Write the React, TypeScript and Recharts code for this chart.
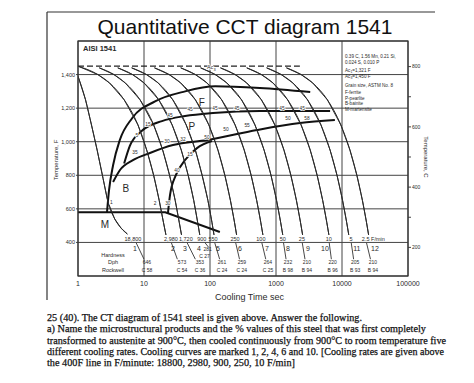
import React from 'react';
import { ComposedChart, Line, Scatter, XAxis, YAxis, CartesianGrid } from 'recharts';

// cooling curves: [time s, temperature F]
const curve1 = [[1, 1390], [1.3, 1250], [1.6, 1100], [1.95, 950], [2.4, 780], [2.85, 640], [3.6, 540], [4.5, 485], [5.6, 450]];
const curve2 = [[1, 1450], [2, 1400], [3, 1350], [5, 1250], [8.1, 1100], [11, 950], [14, 800], [17, 650], [19.7, 520], [21.5, 445]];
const curve3 = [[2.1, 1440], [3.5, 1400], [5.2, 1350], [8.7, 1250], [14, 1100], [19.2, 950], [24.4, 800], [29.7, 650], [34.2, 520], [37, 445]];
const curve4 = [[4, 1440], [6.7, 1400], [10, 1350], [16.7, 1250], [26.7, 1100], [36.7, 950], [46.7, 800], [56.7, 650], [65, 520], [70, 445]];
const curve5 = [[6.5, 1440], [10.9, 1400], [16.4, 1350], [27.3, 1250], [43.6, 1100], [60, 950], [76, 800], [93, 650], [107, 520], [115, 445]];
const curve6 = [[14.4, 1440], [24, 1400], [36, 1350], [60, 1250], [96, 1100], [132, 950], [168, 800], [204, 650], [235, 520], [253, 445]];
const curve7 = [[36, 1440], [60, 1400], [90, 1350], [150, 1250], [240, 1100], [330, 950], [420, 800], [510, 650], [588, 520], [633, 445]];
const curve8 = [[72, 1440], [120, 1400], [180, 1350], [300, 1250], [480, 1100], [660, 950], [840, 800], [1020, 650], [1176, 520], [1266, 445]];
const curve9 = [[144, 1440], [240, 1400], [360, 1350], [600, 1250], [960, 1100], [1320, 950], [1680, 800], [2040, 650], [2350, 520], [2530, 445]];
const curve10 = [[360, 1440], [600, 1400], [900, 1350], [1500, 1250], [2400, 1100], [3300, 950], [4200, 800], [5100, 650], [5880, 520], [6330, 445]];
const curve11 = [[720, 1440], [1200, 1400], [1800, 1350], [3000, 1250], [4800, 1100], [6600, 950], [8400, 800], [10200, 650], [11760, 520], [12660, 445]];
const curve12 = [[1440, 1440], [2400, 1400], [3600, 1350], [6000, 1250], [9600, 1100], [13200, 950], [16800, 800], [20400, 650], [23500, 520], [25300, 445]];
const coolingCurves = [curve1, curve2, curve3, curve4, curve5, curve6, curve7, curve8, curve9, curve10, curve11, curve12];

// transformation lines
const ferriteStart = [[2.75, 580], [2.95, 710], [3.4, 860], [4.3, 1010], [6.6, 1140], [14.7, 1240], [42, 1300], [120, 1330], [570, 1320], [3300, 1296]];
const pearliteStart = [[5, 870], [6.1, 975], [9.3, 1065], [18.7, 1123], [42, 1153], [111, 1171], [570, 1183], [6600, 1183]];
const pearliteFinish = [[3.4, 760], [4.3, 830], [6.8, 890], [12.3, 933], [27.5, 980], [90, 1010], [516, 1070], [2310, 1111], [7800, 1129]];
const bainiteStart = [[23, 570], [24.8, 683], [30.5, 802], [42, 891], [63.5, 962], [107, 1004]];
const msLine = [[1, 580], [21, 580], [141, 462]];
const ac3Line = [[1, 1450], [2300, 1450]];

const timeTicks = [1, 10, 100, 1000, 10000, 100000];
const tempTicksF = [400, 600, 800, 1000, 1200, 1400];
const tempTicksC = [200, 300, 400, 500, 600, 700, 800];

const rateLabels = ['18,800', '2,980', '1,720', '900', '550', '250', '100', '50', '25', '10', '5'];
const rateTimes = [6.8, 25.6, 43, 75, 111, 240, 590, 1270, 2470, 6300, 13700];
const curveNumbers = ['1', '2', '3', '4', '5', '6', '7', '8', '9', '10', '11', '12'];
const numberTimes = [7.3, 27.5, 41.8, 68, 132, 284, 730, 1520, 3060, 5530, 16800, 31500];
const hardnessDph = ['646', '573', '353', '281', '261', '259', '264', '232', '210', '220', '205', '210'];
const rockwell = ['C 58', 'C 54', 'C 36', 'C 27', 'C 24', 'C 24', 'C 25', 'B 98', 'B 94', 'B 96', 'B 93', 'B 94'];
const hardnessTimes = [11.1, 37.7, 70.5, 92, 152, 304, 755, 1520, 2930, 7240, 15800, 29300];
const leaderTop = [7.6, 26, 45, 84, 118, 245, 610, 1300, 2500, 6400, 13800, 23500];
const leaderBottom = [10, 32, 60, 95, 140, 280, 700, 1420, 2750, 6900, 15000, 27000];

const percentLabels: [number, number, string][] = [
  [24.8, 1158, '45'], [50, 1192, '45'], [119, 1200, '45'], [255, 1200, '45'], [1230, 1200, '45'], [2490, 1200, '45'],
  [11.5, 1105, '15'], [7.8, 1040, '5'], [7.3, 938, '35'], [22.3, 1004, '30'], [39, 1016, '32'], [90, 1028, '50'],
  [175, 1070, '50'], [365, 1094, '55'], [1520, 1141, '50'], [2950, 1141, '58'],
  [31.6, 831, '40'], [49.8, 921, '15'], [23, 630, '30'], [14.7, 630, '2'], [3.2, 640, '1'],
];
const regionLabels: [number, number, string][] = [[75, 1236, 'F'], [53, 1093, 'P'], [5.3, 724, 'B'], [2.56, 504, 'M']];

const notes = ['0.39 C, 1.56 Mn, 0.21 Si,', '0.024 S, 0.010 P'];
const phases = ['F-ferrite', 'P-pearlite', 'B-bainite', 'M-martensite'];

const question = [
  '25 (40). The CT diagram of  1541 steel is given above. Answer the following.',
  'a) Name the microstructural products and the % values of this steel that was first completely',
  'transformed to austenite at 900°C, then cooled continuously from 900°C to room temperature five',
  'different cooling rates. Cooling curves are marked 1, 2, 4, 6 and 10. [Cooling rates are given above',
  'the 400F line in F/minute: 18800, 2980, 900, 250, 10 F/min]',
];
const questionWidths = [315, 379, 399, 397, 248];

const toPts = (arr: number[][]) => arr.map(([t, T]) => ({ t, T }));
const SANS = 'Liberation Sans, Arial, sans-serif';
const INK = '#2a2a2a';

// point lists built once
const coolingPts = coolingCurves.map(toPts);
const leaderPts = leaderTop.map((t, i) => toPts([[t, 398], [leaderBottom[i], i === 3 ? 372 : 300]]));
const rateData = rateLabels.map((label, i) => ({ t: rateTimes[i], T: 420, label }));
const numberData = curveNumbers.map((label, i) => ({ t: numberTimes[i], T: 361, label }));
const dphData = hardnessDph.map((label, i) => ({ t: hardnessTimes[i], T: i === 3 ? 361 : 283, label }));
const rockData = rockwell.map((label, i) => ({ t: hardnessTimes[i] * (i === 3 ? 0.9 : 1), T: i === 3 ? 319 : 236, label }));
const pctData = percentLabels.map(([t, T, label]) => ({ t, T, label }));
const regionData = regionLabels.map(([t, T, label]) => ({ t, T, label }));

const textShape = (size: number, opts: { anchor?: string; halo?: boolean } = {}) => (p: any) => (
  <text
    x={p.cx}
    y={p.cy}
    fontSize={size}
    textAnchor={opts.anchor || 'middle'}
    dominantBaseline="central"
    fill={INK}
    fontFamily={SANS}
    stroke={opts.halo ? '#fff' : 'none'}
    strokeWidth={opts.halo ? 1.6 : 0}
    paintOrder="stroke"
  >
    {p.payload.label}
  </text>
);
const noMark = () => <g />;

const thick = { dataKey: 'T', type: 'monotone' as const, stroke: '#111', strokeWidth: 2, dot: false, isAnimationActive: false };

export default function App() {
  return (
    <div style={{ position: 'absolute', left: 0, top: 0, width: 474, height: 383, background: '#fff', fontFamily: SANS }}>
      <ComposedChart width={474} height={300} margin={{ top: 41, right: 42, bottom: 8, left: 50 }}>
        <CartesianGrid stroke="#444" strokeWidth={1} />
        <XAxis
          dataKey="t"
          type="number"
          scale="log"
          domain={[1, 100000]}
          ticks={timeTicks}
          allowDataOverflow
          height={16}
          tickLine={false}
          axisLine={false}
          tickSize={4}
          tickMargin={1}
          tick={{ fontSize: 7, fill: INK }}
        />
        <YAxis
          dataKey="T"
          type="number"
          domain={[200, 1600]}
          ticks={tempTicksF}
          allowDataOverflow
          width={28}
          tickSize={2}
          tickMargin={1}
          axisLine={false}
          tickLine={{ stroke: '#444' }}
          tick={{ fontSize: 5.5, fill: INK }}
          tickFormatter={(v: number) => v.toLocaleString('en-US')}
        />
        <YAxis
          yAxisId="c"
          orientation="right"
          type="number"
          domain={[105, 885]}
          ticks={tempTicksC}
          allowDataOverflow
          width={24}
          tickSize={3}
          tickMargin={1}
          axisLine={false}
          tickLine={{ stroke: '#444' }}
          tick={{ fontSize: 5, fill: INK }}
          tickFormatter={(v: number) => (v % 200 === 0 ? String(v) : '')}
        />

        {coolingPts.map((pts, i) => (
          <Line key={'c' + i} data={pts} dataKey="T" type="monotone" stroke="#2b2b2b" strokeWidth={1} dot={false} isAnimationActive={false} />
        ))}
        {coolingPts.map((pts, i) => (
          <Scatter key={'s' + i} data={pts} dataKey="T" line={{ stroke: '#2b2b2b', strokeWidth: 1 }} shape={noMark} isAnimationActive={false} />
        ))}
        <Line data={toPts(ac3Line)} dataKey="T" type="linear" stroke="#222" strokeWidth={1.3} strokeDasharray="6 3" dot={false} isAnimationActive={false} />
        {leaderPts.map((pts, i) => (
          <Line key={'l' + i} data={pts} dataKey="T" type="linear" stroke="#333" strokeWidth={0.9} dot={false} isAnimationActive={false} />
        ))}
        <Line data={toPts(ferriteStart)} {...thick} />
        <Line data={toPts(pearliteStart)} {...thick} />
        <Line data={toPts(pearliteFinish)} {...thick} />
        <Line data={toPts(bainiteStart)} {...thick} />
        <Line data={toPts(msLine)} {...thick} type="linear" />

        <Scatter data={pctData} dataKey="T" shape={textShape(4.8, { halo: true })} isAnimationActive={false} />
        <Scatter data={regionData} dataKey="T" shape={textShape(10)} isAnimationActive={false} />
        <Scatter data={rateData} dataKey="T" shape={textShape(5.5)} isAnimationActive={false} />
        <Scatter data={[{ t: 20000, T: 420, label: '2.5 F/min' }]} dataKey="T" shape={textShape(5.5, { anchor: 'start' })} isAnimationActive={false} />
        <Scatter data={numberData} dataKey="T" shape={textShape(7)} isAnimationActive={false} />
        <Scatter data={dphData} dataKey="T" shape={textShape(5)} isAnimationActive={false} />
        <Scatter data={rockData} dataKey="T" shape={textShape(5)} isAnimationActive={false} />
      </ComposedChart>

      <svg width={474} height={383} style={{ position: 'absolute', left: 0, top: 0, pointerEvents: 'none' }}>
        <rect x={78} y={41} width={330} height={235} fill="none" stroke="#333" strokeWidth={1.2} />
        <line x1={47} y1={12} x2={435} y2={12} stroke="#333" strokeWidth={1.2} />
        <line x1={47} y1={12} x2={47} y2={300} stroke="#333" strokeWidth={1.2} />
        <text x={245} y={34} fontSize={21} textAnchor="middle" fill="#111" fontFamily={SANS}>
          Quantitative CCT diagram 1541
        </text>
        <text x={83} y={51} fontSize={7.5} fontWeight="bold" fill={INK} fontFamily={SANS}>AISI 1541</text>
        <text x={207} y={69} fontSize={5.5} fill={INK} fontFamily={SANS} stroke="#fff" strokeWidth={1.5} paintOrder="stroke">
          Ac<tspan fontSize={4} dy={1.5}>3</tspan>
        </text>

        <g fontSize={4.6} fill={INK} fontFamily={SANS}>
          <text x={345} y={58}>{notes[0]}</text>
          <text x={345} y={64}>{notes[1]}</text>
          <text x={345} y={72}>Ac<tspan fontSize={3.4} dy={1}>1</tspan><tspan dy={-1}>=1,321 F</tspan></text>
          <text x={345} y={78}>Ac<tspan fontSize={3.4} dy={1}>3</tspan><tspan dy={-1}>=1,450 F</tspan></text>
          <text x={345} y={86.5}>Grain size, ASTM No. 8</text>
          {phases.map((p, i) => (
            <text key={p} x={345} y={94 + i * 5.6}>{p}</text>
          ))}
        </g>

        <text transform="translate(58,160) rotate(-90)" fontSize={6} textAnchor="middle" fill={INK} fontFamily={SANS}>Temperature, F</text>
        <text transform="translate(424,157) rotate(90)" fontSize={6} textAnchor="middle" fill={INK} fontFamily={SANS}>Temperature, C</text>

        <g fontSize={5.5} fill={INK} fontFamily={SANS} textAnchor="middle">
          <text x={113} y={257}>Hardness</text>
          <text x={113} y={264}>Dph</text>
          <text x={113} y={271.5}>Rockwell</text>
        </g>

        <text x={249.5} y={300} fontSize={9} textAnchor="middle" fill={INK} fontFamily={SANS}>Cooling Time sec</text>

        <g fontSize={10.5} fill="#111" fontFamily="Liberation Serif, Times New Roman, serif" stroke="#111" strokeWidth={0.25}>
          {question.map((line, i) => (
            <text key={i} x={47} y={321 + i * 11.3} textLength={questionWidths[i]} lengthAdjust="spacingAndGlyphs">
              {line}
            </text>
          ))}
        </g>
      </svg>
    </div>
  );
}
